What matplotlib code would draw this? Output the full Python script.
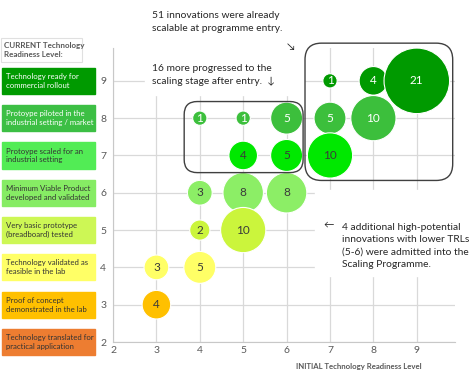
import matplotlib
matplotlib.use('Agg')
import matplotlib.pyplot as plt
from matplotlib.patches import FancyBboxPatch, Rectangle

plt.rcParams['font.family'] = ['Lato', 'DejaVu Sans']

# --- data: one bubble per (initial TRL, current TRL) pair ---
init_trl = [7, 8, 9, 4, 5, 6, 7, 8, 5, 6, 7, 4, 5, 6, 4, 5, 3, 4, 3]
curr_trl = [9, 9, 9, 8, 8, 8, 8, 8, 7, 7, 7, 6, 6, 6, 5, 5, 4, 4, 3]
counts = [1, 4, 21, 1, 1, 5, 5, 10, 4, 5, 10, 3, 8, 8, 2, 10, 3, 5, 4]

levels = [9, 8, 7, 6, 5, 4, 3, 2]
level_labels = [
    "Technology ready for\ncommercial rollout",
    "Protoype piloted in the\nindustrial setting / market",
    "Protoype scaled for an\nindustrial setting",
    "Minimum Viable Product\ndeveloped and validated",
    "Very basic prototype\n(breadboard) tested",
    "Technology validated as\nfeasible in the lab",
    "Proof of concept\ndemonstrated in the lab",
    "Technology translated for\npractical application",
]
level_colors = ['#009A00', '#3CBF44', '#52EC55', '#86EC64', '#CDF755',
                '#FFFF66', '#FFC000', '#ED7D31']
bubble_colors = {9: '#009A00', 8: '#3CBF3C', 7: '#00E800', 6: '#8CEE66',
                 5: '#CBF53C', 4: '#FFFF66', 3: '#FFC000'}

fig = plt.figure(figsize=(4.74, 3.74), dpi=100)
W, H = 474, 374
ax = fig.add_axes([113 / W, 1 - 342 / H, 342 / W, 294 / H])
ax.set_xlim(2, 9.88)
ax.set_ylim(2, 9.88)
ax.set_xticks(range(2, 10))
ax.set_yticks(range(2, 10))
ax.tick_params(length=0, labelsize=7.5, colors='#595959')
ax.tick_params(axis='y', pad=5)
ax.tick_params(axis='x', pad=3)
ax.grid(True, color='#d9d9d9', lw=0.9)
ax.set_axisbelow(True)
for s in ['top', 'right']:
    ax.spines[s].set_visible(False)
for s in ['left', 'bottom']:
    ax.spines[s].set_color('#c8c8c8')

# bubbles
cols = [bubble_colors[y] for y in curr_trl]
ax.scatter(init_trl, curr_trl, s=[106 * n for n in counts], c=cols,
           edgecolors='white', linewidths=0.8, zorder=3)
for x, y, n in zip(init_trl, curr_trl, counts):
    tc = 'white' if y >= 8 else '#3a3a3a'
    ax.text(x, y, str(n), ha='center', va='center', fontsize=8.5, color=tc, zorder=4)

# white areas behind the annotations
ax.add_patch(Rectangle((2.74, 8.62), 6.4 - 2.74, 9.88 - 8.62, color='white', zorder=1))
ax.add_patch(Rectangle((6.65, 3.77), 9.88 - 6.65, 6.08 - 3.77, color='white', zorder=1,
                       clip_on=False))

# rounded frames
asp = 43.4 / 37.3
ax.add_patch(FancyBboxPatch((3.64, 6.54), 6.38 - 3.64, 8.445 - 6.54,
                            boxstyle='round,pad=0,rounding_size=0.3', mutation_aspect=asp,
                            fill=False, ec='#404040', lw=1, zorder=5, clip_on=False))
ax.add_patch(FancyBboxPatch((6.424, 6.33), 9.827 - 6.424, 10.01 - 6.33,
                            boxstyle='round,pad=0,rounding_size=0.38', mutation_aspect=asp,
                            fill=False, ec='#404040', lw=1, zorder=5, clip_on=False))

# left-hand level boxes
tr = ax.get_yaxis_transform()
bx0 = (2 - 113) / 342
bw = 93 / 342
for lv, lab, c in zip(levels, level_labels, level_colors):
    ax.add_patch(Rectangle((bx0, lv - 0.35), bw, 0.7, transform=tr, color=c,
                           clip_on=False, zorder=2))
    tc = 'white' if lv >= 8 else '#333333'
    ax.text((6 - 113) / 342, lv, lab, transform=tr, ha='left', va='center',
            fontsize=5.6, color=tc, linespacing=1.3, clip_on=False)

fig.patches.append(Rectangle((1 / W, 1 - 62 / H), 81 / W, 24 / H, transform=fig.transFigure,
                             fc='white', ec='#e0e0e0', lw=0.8))
fig.text(4 / W, 1 - 50 / H, "CURRENT Technology\nReadiness Level:", ha='left', va='center',
         fontsize=5.8, fontweight='bold', color='#595959', linespacing=1.3)

# annotations
note_kw = dict(ha='left', va='center', fontsize=7.4, color='#262626', linespacing=1.45)
fig.text(152 / W, 1 - 22 / H, "51 innovations were already\nscalable at programme entry.",
         **note_kw)
fig.text(291 / W, 1 - 48 / H, "\u2198", ha='center', va='center', fontsize=7.5, color='#262626')
fig.text(152 / W, 1 - 75 / H, "16 more progressed to the\nscaling stage after entry.  \u2193",
         **note_kw)
fig.text(329 / W, 1 - 225 / H, "\u2190", ha='center', va='center', fontsize=7.5, color='#262626')
fig.text(342 / W, 1 - 246 / H,
         "4 additional high-potential\ninnovations with lower TRLs\n(5-6) were admitted into the\nScaling Programme.",
         **note_kw)

fig.text(359 / W, 1 - 367 / H, "INITIAL Technology Readiness Level", ha='center', va='center',
         fontsize=5.6, fontweight='bold', color='#595959')

fig.savefig('out.png', dpi=100)
